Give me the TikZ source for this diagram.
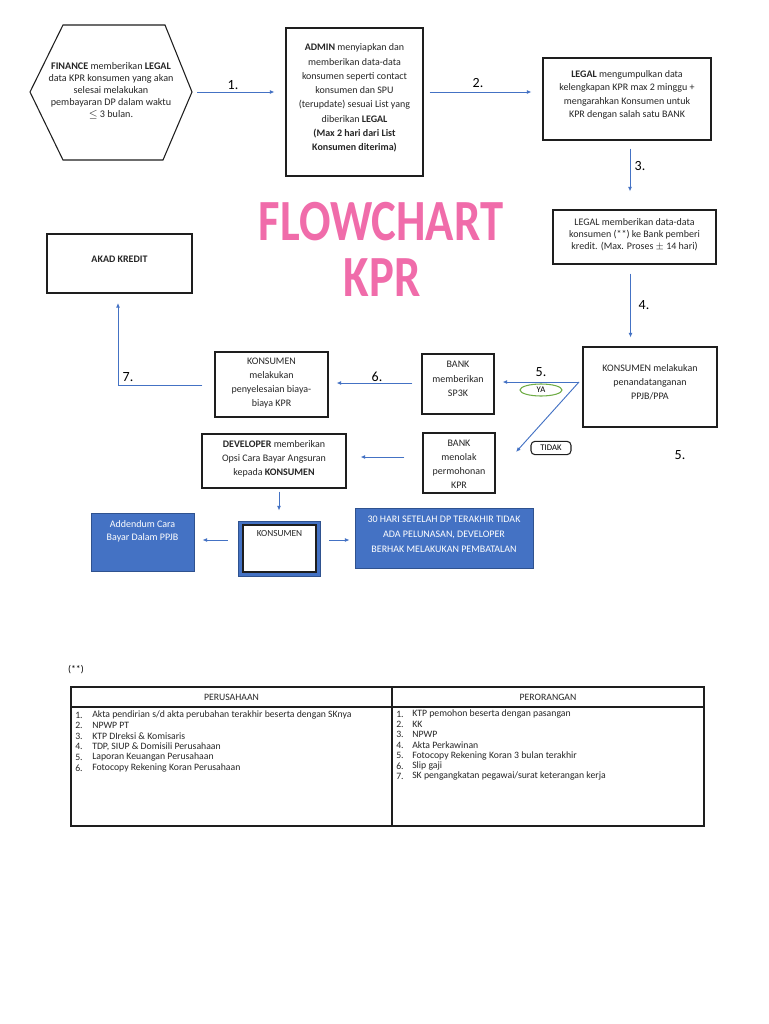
\documentclass[tikz,border=0pt]{standalone}
\usepackage{fontspec}
\setmainfont{Carlito}
\usetikzlibrary{arrows.meta,fit,calc,shapes.geometric}
\definecolor{arrblue}{RGB}{68,114,196}
\definecolor{boxblue}{RGB}{68,114,196}
\definecolor{boxedge}{RGB}{47,82,143}
\definecolor{yagreen}{RGB}{112,173,71}
\definecolor{titlepink}{RGB}{240,108,170}
\definecolor{lineblack}{RGB}{30,30,30}
\tikzset{
  bx/.style={draw=lineblack, line width=0.8pt, inner sep=0pt},
  bluebx/.style={draw=boxedge, fill=boxblue, line width=0.6pt, inner sep=0pt},
  txt/.style={align=center, inner sep=0pt, font=\fontsize{7.5}{10.5}\selectfont, text=black!85},
  wtxt/.style={align=center, inner sep=0pt, font=\fontsize{7.5}{10}\selectfont, text=white},
  num/.style={inner sep=0pt, font=\fontsize{10.5}{12}\selectfont, text=black},
  arr/.style={draw=arrblue, line width=0.7pt, -{Latex[length=3.5pt,width=3pt]}},
  ttxt/.style={anchor=west, inner sep=0pt, font=\fontsize{7.3}{8}\selectfont, text=black!85},
}
\begin{document}
\begin{tikzpicture}[x=0.75pt,y=-0.75pt]
\useasboundingbox[fill=white] (0,0) rectangle (768,1024);

% ---- Hexagon (FINANCE)
\draw[lineblack, line width=0.8pt] (30,92) -- (63,25) -- (165,25) -- (192,92) -- (163,160) -- (63,160) -- cycle;
\node[txt, font=\fontsize{7.6}{9}\selectfont] (hex) at (111,91) {\textbf{FINANCE} memberikan \textbf{LEGAL}\\data KPR konsumen yang akan\\selesai melakukan\\pembayaran DP dalam waktu\\\(\leq\) 3 bulan.};
\coordinate (hexR) at (192,92);

% ---- ADMIN box
\node[bx, fit={(286,28) (423,176)}] (admin) {};
\node[txt, font=\fontsize{7.5}{10.7}\selectfont] (admintxt) at (354.5,98) {\textbf{ADMIN} menyiapkan dan\\memberikan data-data\\konsumen seperti contact\\konsumen dan SPU\\(terupdate) sesuai List yang\\diberikan \textbf{LEGAL}\\\textbf{(Max 2 hari dari List}\\\textbf{Konsumen diterima)}};

% ---- LEGAL box
\node[bx, fit={(543,58) (711,140)}] (legal) {};
\node[txt, font=\fontsize{7.5}{10}\selectfont] (legaltxt) at (627,95) {\textbf{LEGAL} mengumpulkan data\\kelengkapan KPR max 2 minggu +\\mengarahkan Konsumen untuk\\KPR dengan salah satu BANK};

% ---- LEGAL 2 box
\node[bx, fit={(553,210) (716,264)}] (legal2) {};
\node[txt, font=\fontsize{7.5}{9}\selectfont] (legal2txt) at (634.5,235) {LEGAL memberikan data-data\\konsumen (**) ke Bank pemberi\\kredit. (Max. Proses \(\pm\) 14 hari)};

% ---- Title
\node[inner sep=0pt, text=titlepink, font=\fontsize{35}{35}\bfseries\selectfont, yscale=1.25] (title1) at (381,222) {FLOWCHART};
\node[inner sep=0pt, text=titlepink, font=\fontsize{35}{35}\bfseries\selectfont, yscale=1.25] (title2) at (382,278) {KPR};

% ---- AKAD KREDIT
\node[bx, line width=1.5pt, fit={(47,234) (192,293)}] (akad) {};
\node[txt, font=\fontsize{7.5}{10}\bfseries\selectfont] (akadtxt) at (119.5,259) {AKAD KREDIT};

% ---- KONSUMEN PPJB box
\node[bx, fit={(583,347) (717,427)}] (ppjb) {};
\node[txt, font=\fontsize{7.5}{10.5}\selectfont] (ppjbtxt) at (650,382) {KONSUMEN melakukan\\penandatanganan\\PPJB/PPA};

% ---- BANK SP3K
\node[bx, fit={(422,354) (494,414)}] (sp3k) {};
\node[txt, font=\fontsize{7.5}{10.8}\selectfont] (sp3ktxt) at (458,379) {BANK\\memberikan\\SP3K};

% ---- BANK menolak
\node[bx, fit={(423,433) (495,493)}] (menolak) {};
\node[txt, font=\fontsize{7.5}{10.5}\selectfont] (menolaktxt) at (459,464) {BANK\\menolak\\permohonan\\KPR};

% ---- KONSUMEN 6
\node[bx, fit={(215,352) (328,417)}] (k6) {};
\node[txt, font=\fontsize{7.5}{10.5}\selectfont] (k6txt) at (271.5,383) {KONSUMEN\\melakukan\\penyelesaian biaya-\\biaya KPR};

% ---- DEVELOPER
\node[bx, fit={(202,434) (346,488)}] (dev) {};
\node[txt, font=\fontsize{7.5}{10.5}\selectfont] (devtxt) at (274,459) {\textbf{DEVELOPER} memberikan\\Opsi Cara Bayar Angsuran\\kepada \textbf{KONSUMEN}};

% ---- Bottom row
\node[bluebx, fit={(91,513) (194,571)}] (add) {};
\node[wtxt] (addtxt) at (142.5,531.5) {Addendum Cara\\Bayar Dalam PPJB};
\node[bluebx, fit={(238,521) (320,576)}] (kb) {};
\node[draw=lineblack, fill=white, line width=0.8pt, inner sep=0pt, fit={(243,525) (316,572)}] (kbin) {};
\node[txt, font=\fontsize{7}{9}\selectfont] (kbtxt) at (279.5,533) {KONSUMEN};
\node[bluebx, fit={(355,508) (533,568)}] (hari) {};
\node[wtxt, font=\fontsize{7.5}{11.2}\selectfont] (haritxt) at (444,534) {30 HARI SETELAH DP TERAKHIR TIDAK\\ADA PELUNASAN, DEVELOPER\\BERHAK MELAKUKAN PEMBATALAN};

% ---- Connectors
\draw[arr, shorten <=3.75pt, shorten >=8.25pt] (hexR) -- (hexR -| admin.west);
\node[num] (l1) at (233,85) {1.};
\draw[arr, shorten <=4.5pt, shorten >=8.25pt] (admin.east |- hexR) -- (hexR -| legal.west);
\node[num] (l2) at (478,83) {2.};
\draw[arr, shorten <=6pt, shorten >=13.5pt] ($(legal.south)+(3,0)$) -- ($(legal.south |- legal2.north)+(3,0)$);
\node[num] (l3) at (640,166) {3.};
\draw[arr, shorten <=6.75pt, shorten >=6.75pt] ($(legal2.south)+(-4,0)$) -- ($(legal2.south |- ppjb.north)+(-4,0)$);
\node[num] (l4) at (644,305) {4.};

\coordinate (split) at (579,382);
\coordinate (tidakend) at (516,452);
\draw[arr, shorten >=6pt] (split) -- (split -| sp3k.east);
\draw[arr] (split) -- (tidakend);
\node[num] (l5a) at (541,372) {5.};
\node[draw=yagreen, line width=0.8pt, ellipse, minimum width=31.5pt, minimum height=9pt, inner sep=0pt, font=\fontsize{6.5}{7}\selectfont] (ya) at (541,390) {YA};
\node[draw=lineblack, line width=0.8pt, rounded corners=3pt, minimum width=30pt, minimum height=10pt, inner sep=0pt, font=\fontsize{6.5}{7}\selectfont] (tidak) at (551,448) {TIDAK};
\node[num] (l5b) at (680,455) {5.};

\draw[arr, shorten <=6.75pt, shorten >=6pt] (sp3k.west |- 0,383) -- (k6.east |- 0,383);
\node[num] (l6) at (377,377) {6.};
\draw[arr, shorten <=9pt, shorten >=6.75pt] (k6.west |- 0,385) -| (akad.south -| 118,0);
\node[num] (l7) at (128,377) {7.};

\draw[arr, shorten <=13.5pt, shorten >=10.5pt] (menolak.west |- 0,457) -- (dev.east |- 0,457);
\draw[arr, shorten <=2.25pt, shorten >=7.5pt] (kb.north |- dev.south) -- (kb.north);
\draw[arr, shorten <=7.5pt, shorten >=6pt] (kb.west |- 0,540) -- (add.east |- 0,540);
\draw[arr, shorten <=6.75pt, shorten >=3.75pt] (kb.east |- 0,540) -- (hari.west |- 0,540);

% ---- Table
\node[inner sep=0pt, font=\fontsize{7.3}{8}\selectfont] (star) at (76,670) {(**)};
\node[draw=lineblack, line width=0.8pt, inner sep=0pt, fit={(71,687) (704,826)}] (tbl) {};
\draw[lineblack, line width=0.8pt] (tbl.north -| 392,0) -- (tbl.south -| 392,0);
\draw[lineblack, line width=0.8pt] (tbl.west |- 0,707) -- (tbl.east |- 0,707);
\node[inner sep=0pt, font=\fontsize{7.3}{8}\selectfont, text=black!85] (hp) at (231.5,697) {PERUSAHAAN};
\node[inner sep=0pt, font=\fontsize{7.3}{8}\selectfont, text=black!85] (ho) at (548,697) {PERORANGAN};

\foreach \t [count=\i] in {Akta pendirian s/d akta perubahan terakhir beserta dengan SKnya, NPWP PT, KTP DIreksi \& Komisaris, {TDP, SIUP \& Domisili Perusahaan}, Laporan Keuangan Perusahaan, Fotocopy Rekening Koran Perusahaan}{
  \node[ttxt] (pn\i) at (75,{715+10.6*(\i-1)}) {\i.};
  \node[ttxt] (pt\i) at (92,{715+10.6*(\i-1)}) {\t};
}
\foreach \t [count=\i] in {KTP pemohon beserta dengan pasangan, KK, NPWP, Akta Perkawinan, Fotocopy Rekening Koran 3 bulan terakhir, Slip gaji, SK pengangkatan pegawai/surat keterangan kerja}{
  \node[ttxt] (on\i) at (396,{714+10.4*(\i-1)}) {\i.};
  \node[ttxt] (ot\i) at (412,{714+10.4*(\i-1)}) {\t};
}
\end{tikzpicture}
\end{document}
